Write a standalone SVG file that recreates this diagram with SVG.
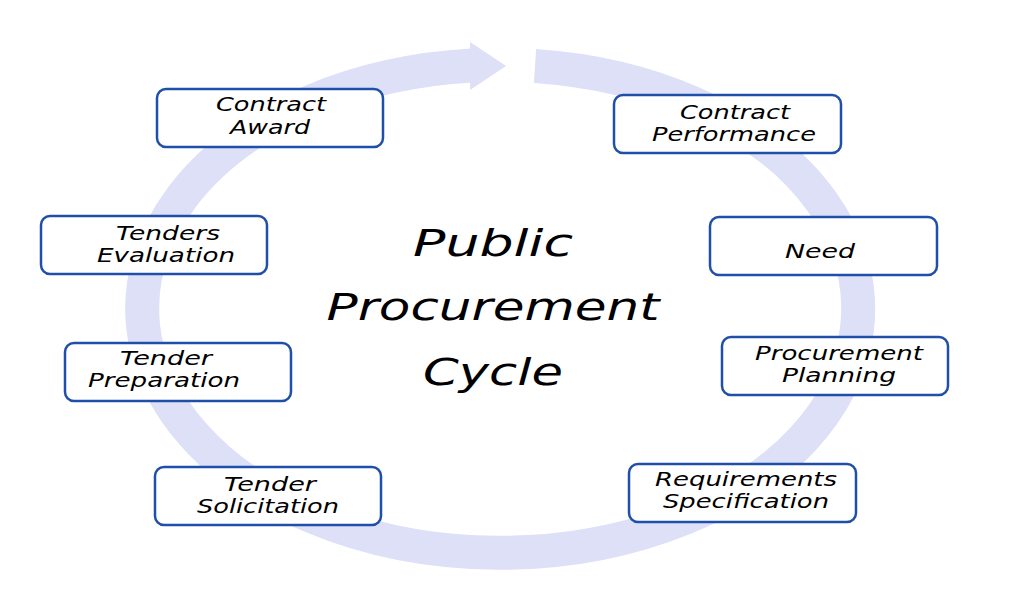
<svg xmlns="http://www.w3.org/2000/svg" width="1023" height="615" viewBox="0 0 1023 615">
<style>
.b{fill:#fff;stroke:#1f4fa8;stroke-width:2.5}
.t{font-family:"DejaVu Sans","Liberation Sans",sans-serif;font-style:italic;font-size:19px;fill:#000;text-anchor:middle}
.h{font-family:"DejaVu Sans","Liberation Sans",sans-serif;font-style:italic;font-size:38px;fill:#000;text-anchor:middle}
</style>
<rect width="1023" height="615" fill="#fff"/>
<g id="connectors">
<path d="M 535 66 A 358 244 0 1 1 472 65.6" fill="none" stroke="#dde0f7" stroke-width="34"/>
<polygon points="470,42 506,66 470,90" fill="#dde0f7"/>
</g>
<g id="title"><text class="h" x="493" y="256" textLength="160" lengthAdjust="spacingAndGlyphs">Public</text><text class="h" x="493" y="320" textLength="333" lengthAdjust="spacingAndGlyphs">Procurement</text><text class="h" x="493" y="385" textLength="140" lengthAdjust="spacingAndGlyphs">Cycle</text></g>
<g id="n1"><rect class="b" x="157" y="89" width="226" height="58" rx="9"/><text class="t" x="271" y="111" textLength="110" lengthAdjust="spacingAndGlyphs">Contract</text><text class="t" x="270" y="134" textLength="80" lengthAdjust="spacingAndGlyphs">Award</text></g>
<g id="n2"><rect class="b" x="614" y="95" width="227" height="58" rx="9"/><text class="t" x="735" y="119" textLength="110" lengthAdjust="spacingAndGlyphs">Contract</text><text class="t" x="734" y="141" textLength="164" lengthAdjust="spacingAndGlyphs">Performance</text></g>
<g id="n3"><rect class="b" x="41" y="216" width="226" height="58" rx="9"/><text class="t" x="168" y="240" textLength="104" lengthAdjust="spacingAndGlyphs">Tenders</text><text class="t" x="166" y="262" textLength="138" lengthAdjust="spacingAndGlyphs">Evaluation</text></g>
<g id="n4"><rect class="b" x="710" y="217" width="227" height="58" rx="9"/><text class="t" x="820" y="258" textLength="70" lengthAdjust="spacingAndGlyphs">Need</text></g>
<g id="n5"><rect class="b" x="65" y="343" width="226" height="58" rx="9"/><text class="t" x="166" y="365" textLength="92" lengthAdjust="spacingAndGlyphs">Tender</text><text class="t" x="164" y="387" textLength="152" lengthAdjust="spacingAndGlyphs">Preparation</text></g>
<g id="n6"><rect class="b" x="722" y="337" width="226" height="58" rx="9"/><text class="t" x="839" y="360" textLength="168" lengthAdjust="spacingAndGlyphs">Procurement</text><text class="t" x="839" y="382" textLength="114" lengthAdjust="spacingAndGlyphs">Planning</text></g>
<g id="n7"><rect class="b" x="155" y="467" width="226" height="58" rx="9"/><text class="t" x="270" y="491" textLength="92" lengthAdjust="spacingAndGlyphs">Tender</text><text class="t" x="268" y="513" textLength="142" lengthAdjust="spacingAndGlyphs">Solicitation</text></g>
<g id="n8"><rect class="b" x="629" y="464" width="227" height="58" rx="9"/><text class="t" x="746" y="486" textLength="182" lengthAdjust="spacingAndGlyphs">Requirements</text><text class="t" x="746" y="508" textLength="166" lengthAdjust="spacingAndGlyphs">Specification</text></g>
</svg>
